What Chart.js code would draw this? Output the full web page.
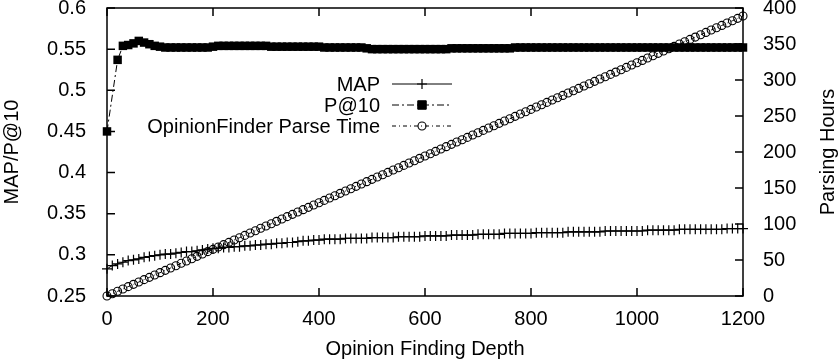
<!DOCTYPE html>
<html>
<head>
<meta charset="utf-8">
<script src="https://cdn.jsdelivr.net/npm/chart.js"></script>
<style>
  body { margin: 0; background: #fff; }
  canvas { display: block; }
</style>
</head>
<body>
<canvas id="depthChart" width="840" height="361"></canvas>
<script>
// opinion finding depth (x)
const depths = [
  0, 10, 20, 30, 40, 50, 60, 70, 80, 90,
  100, 110, 120, 130, 140, 150, 160, 170, 180, 190,
  200, 210, 220, 230, 240, 250, 260, 270, 280, 290,
  300, 310, 320, 330, 340, 350, 360, 370, 380, 390,
  400, 410, 420, 430, 440, 450, 460, 470, 480, 490,
  500, 510, 520, 530, 540, 550, 560, 570, 580, 590,
  600, 610, 620, 630, 640, 650, 660, 670, 680, 690,
  700, 710, 720, 730, 740, 750, 760, 770, 780, 790,
  800, 810, 820, 830, 840, 850, 860, 870, 880, 890,
  900, 910, 920, 930, 940, 950, 960, 970, 980, 990,
  1000, 1010, 1020, 1030, 1040, 1050, 1060, 1070, 1080, 1090,
  1100, 1110, 1120, 1130, 1140, 1150, 1160, 1170, 1180, 1190,
  1200
];

const mapValues = [
  0.283, 0.287, 0.289, 0.291, 0.293, 0.294, 0.295, 0.297, 0.298, 0.299,
  0.300, 0.301, 0.301, 0.302, 0.303, 0.304, 0.304, 0.305, 0.306, 0.307,
  0.308, 0.308, 0.309, 0.309, 0.310, 0.310, 0.311, 0.311, 0.312, 0.312,
  0.313, 0.313, 0.314, 0.314, 0.315, 0.315, 0.316, 0.317, 0.317, 0.318,
  0.318, 0.319, 0.319, 0.319, 0.319, 0.320, 0.320, 0.320, 0.320, 0.320,
  0.321, 0.321, 0.321, 0.321, 0.321, 0.322, 0.322, 0.322, 0.322, 0.322,
  0.323, 0.323, 0.323, 0.323, 0.323, 0.324, 0.324, 0.324, 0.324, 0.324,
  0.325, 0.325, 0.325, 0.325, 0.325, 0.326, 0.326, 0.326, 0.326, 0.326,
  0.326, 0.327, 0.327, 0.327, 0.327, 0.327, 0.327, 0.328, 0.328, 0.328,
  0.328, 0.328, 0.328, 0.328, 0.329, 0.329, 0.329, 0.329, 0.329, 0.329,
  0.329, 0.329, 0.330, 0.330, 0.330, 0.330, 0.330, 0.330, 0.331, 0.331,
  0.331, 0.331, 0.331, 0.331, 0.331, 0.331, 0.331, 0.332, 0.332, 0.332,
  0.332
];

const p10Values = [
  0.450, null, 0.537, 0.554, 0.555, 0.557, 0.560, 0.558, 0.556, 0.554,
  0.553, 0.552, 0.552, 0.552, 0.552, 0.552, 0.552, 0.552, 0.552, 0.552,
  0.553, 0.554, 0.554, 0.554, 0.554, 0.554, 0.554, 0.554, 0.554, 0.554,
  0.554, 0.553, 0.553, 0.553, 0.553, 0.553, 0.553, 0.553, 0.553, 0.553,
  0.553, 0.552, 0.552, 0.552, 0.552, 0.552, 0.552, 0.552, 0.552, 0.551,
  0.550, 0.550, 0.550, 0.550, 0.550, 0.550, 0.550, 0.550, 0.550, 0.550,
  0.550, 0.550, 0.550, 0.550, 0.550, 0.551, 0.551, 0.551, 0.551, 0.551,
  0.551, 0.551, 0.551, 0.551, 0.551, 0.551, 0.551, 0.552, 0.552, 0.552,
  0.552, 0.552, 0.552, 0.552, 0.552, 0.552, 0.552, 0.552, 0.552, 0.552,
  0.552, 0.552, 0.552, 0.552, 0.552, 0.552, 0.552, 0.552, 0.552, 0.552,
  0.552, 0.552, 0.552, 0.552, 0.552, 0.552, 0.552, 0.552, 0.552, 0.552,
  0.552, 0.552, 0.552, 0.552, 0.552, 0.552, 0.552, 0.552, 0.552, 0.552,
  0.552
];

// OpinionFinder parse time in hours (right axis)
const parseHours = [
  0, 3.2, 6.5, 9.7, 13.0, 16.2, 19.4, 22.7, 25.9, 29.2,
  32.4, 35.6, 38.9, 42.1, 45.4, 48.6, 51.8, 55.1, 58.3, 61.6,
  64.8, 68.0, 71.3, 74.5, 77.8, 81.0, 84.2, 87.5, 90.7, 94.0,
  97.2, 100.4, 103.7, 106.9, 110.2, 113.4, 116.6, 119.9, 123.1, 126.4,
  129.6, 132.8, 136.1, 139.3, 142.6, 145.8, 149.0, 152.3, 155.5, 158.8,
  162.0, 165.2, 168.5, 171.7, 175.0, 178.2, 181.4, 184.7, 187.9, 191.2,
  194.4, 197.6, 200.9, 204.1, 207.4, 210.6, 213.8, 217.1, 220.3, 223.6,
  226.8, 230.0, 233.3, 236.5, 239.8, 243.0, 246.2, 249.5, 252.7, 256.0,
  259.2, 262.4, 265.7, 268.9, 272.2, 275.4, 278.6, 281.9, 285.1, 288.4,
  291.6, 294.8, 298.1, 301.3, 304.6, 307.8, 311.0, 314.3, 317.5, 320.8,
  324.0, 327.2, 330.5, 333.7, 337.0, 340.2, 343.4, 346.7, 349.9, 353.2,
  356.4, 359.6, 362.9, 366.1, 369.4, 372.6, 375.8, 379.1, 382.3, 385.6,
  388.8
];

const seriesNames = ['MAP', 'P@10', 'OpinionFinder Parse Time'];
const xTitle = 'Opinion Finding Depth';
const yTitle = 'MAP/P@10';
const y2Title = 'Parsing Hours';

const FONT = 'Liberation Sans, Arial, Helvetica, sans-serif';

function pairs(values) {
    return depths.map((d, i) => ({ x: d, y: values[i] }));
}

// gnuplot style box + inward tick marks
const frameTicks = {
    id: 'frameTicks',
    beforeDatasetsDraw(chart) {
        const ctx = chart.ctx;
        const a = chart.chartArea;
        const len = 8;
        ctx.save();
        ctx.strokeStyle = '#000';
        ctx.lineWidth = 1.5;
        ctx.strokeRect(a.left, a.top, a.right - a.left, a.bottom - a.top);
        ctx.beginPath();
        chart.scales.x.ticks.forEach(t => {
            const px = chart.scales.x.getPixelForValue(t.value);
            ctx.moveTo(px, a.bottom); ctx.lineTo(px, a.bottom - len);
            ctx.moveTo(px, a.top); ctx.lineTo(px, a.top + len);
        });
        chart.scales.y.ticks.forEach(t => {
            const py = chart.scales.y.getPixelForValue(t.value);
            ctx.moveTo(a.left, py); ctx.lineTo(a.left + len, py);
        });
        chart.scales.y2.ticks.forEach(t => {
            const py = chart.scales.y2.getPixelForValue(t.value);
            ctx.moveTo(a.right, py); ctx.lineTo(a.right - len, py);
        });
        ctx.stroke();

        // right axis title reads bottom to top, like the left one
        ctx.fillStyle = '#000';
        ctx.font = '20px ' + FONT;
        ctx.textAlign = 'center';
        ctx.textBaseline = 'middle';
        ctx.translate(chart.width - 12, (a.top + a.bottom) / 2);
        ctx.rotate(-Math.PI / 2);
        ctx.fillText(y2Title, 0, 0);
        ctx.restore();
    }
};

// legend inside the plot: label on the left, line sample on the right
const innerLegend = {
    id: 'innerLegend',
    afterDraw(chart) {
        const ctx = chart.ctx;
        const textRight = 380;
        const lineStart = 392, lineEnd = 452;
        const rows = [84, 105, 126];
        ctx.save();
        ctx.font = '20px ' + FONT;
        ctx.textAlign = 'right';
        ctx.textBaseline = 'middle';
        chart.data.datasets.forEach((ds, i) => {
            const y = rows[i];
            ctx.fillStyle = '#000';
            ctx.fillText(ds.label, textRight, y + 1);
            ctx.strokeStyle = '#000';
            ctx.lineWidth = 1;
            ctx.setLineDash(ds.borderDash || []);
            ctx.beginPath();
            ctx.moveTo(lineStart, y);
            ctx.lineTo(lineEnd, y);
            ctx.stroke();
            ctx.setLineDash([]);
            ctx.fillStyle = ds.pointBackgroundColor;
            ctx.lineWidth = ds.pointBorderWidth || 1;
            Chart.helpers.drawPoint(ctx, {
                pointStyle: ds.pointStyle,
                radius: ds.pointRadius,
                rotation: 0,
                borderWidth: 1
            }, (lineStart + lineEnd) / 2, y);
        });
        ctx.restore();
    }
};

function fixWidth(w) {
    return function(scale) {
        scale.width = w;
        scale.paddingTop = 8;
        scale.paddingBottom = 0;
    };
}

const ctx = document.getElementById('depthChart').getContext('2d');
new Chart(ctx, {
    type: 'line',
    data: {
        datasets: [
            {
                label: seriesNames[0],
                data: pairs(mapValues),
                yAxisID: 'y',
                borderColor: '#000',
                borderWidth: 1,
                pointStyle: 'cross',
                pointRadius: 5,
                pointBorderColor: '#000',
                pointBackgroundColor: '#000',
                pointBorderWidth: 1.2,
                clip: false,
            },
            {
                label: seriesNames[1],
                data: pairs(p10Values),
                yAxisID: 'y',
                borderColor: '#000',
                borderWidth: 1,
                borderDash: [7, 3, 2, 3],
                spanGaps: true,
                pointStyle: 'rect',
                pointRadius: 6,
                pointBorderColor: '#000',
                pointBackgroundColor: '#000',
                pointBorderWidth: 0,
                clip: false,
            },
            {
                label: seriesNames[2],
                data: pairs(parseHours),
                yAxisID: 'y2',
                borderColor: '#000',
                borderWidth: 1,
                borderDash: [4, 3, 1, 3],
                pointStyle: 'circle',
                pointRadius: 4,
                pointBorderColor: '#000',
                pointBackgroundColor: 'rgba(0,0,0,0)',
                pointBorderWidth: 1.1,
                clip: false,
            },
        ],
    },
    options: {
        responsive: false,
        animation: false,
        layout: { padding: 0 },
        plugins: {
            legend: { display: false },
            tooltip: { enabled: false },
        },
        scales: {
            x: {
                type: 'linear',
                min: 0,
                max: 1200,
                grid: { display: false },
                border: { display: false },
                ticks: {
                    stepSize: 200,
                    padding: 3,
                    color: '#000',
                    maxRotation: 0,
                    font: { family: FONT, size: 20 },
                    callback: v => String(v),
                },
                title: {
                    display: true,
                    text: xTitle,
                    color: '#000',
                    padding: 0,
                    font: { family: FONT, size: 20 },
                },
                afterFit(scale) {
                    scale.height = 65;
                    scale.paddingLeft = 0;
                    scale.paddingRight = 0;
                },
            },
            y: {
                position: 'left',
                min: 0.25,
                max: 0.6,
                grid: { display: false },
                border: { display: false },
                ticks: {
                    stepSize: 0.05,
                    padding: 13,
                    color: '#000',
                    font: { family: FONT, size: 20 },
                    callback: v => String(Number(v.toFixed(2))),
                },
                title: {
                    display: true,
                    text: yTitle,
                    color: '#000',
                    padding: 0,
                    font: { family: FONT, size: 20 },
                },
                afterFit: fixWidth(107),
            },
            y2: {
                position: 'right',
                min: 0,
                max: 400,
                grid: { display: false },
                border: { display: false },
                ticks: {
                    stepSize: 50,
                    padding: 12,
                    color: '#000',
                    font: { family: FONT, size: 20 },
                },
                title: { display: false },
                afterFit: fixWidth(97),
            },
        },
    },
    plugins: [frameTicks, innerLegend],
});
</script>
</body>
</html>
